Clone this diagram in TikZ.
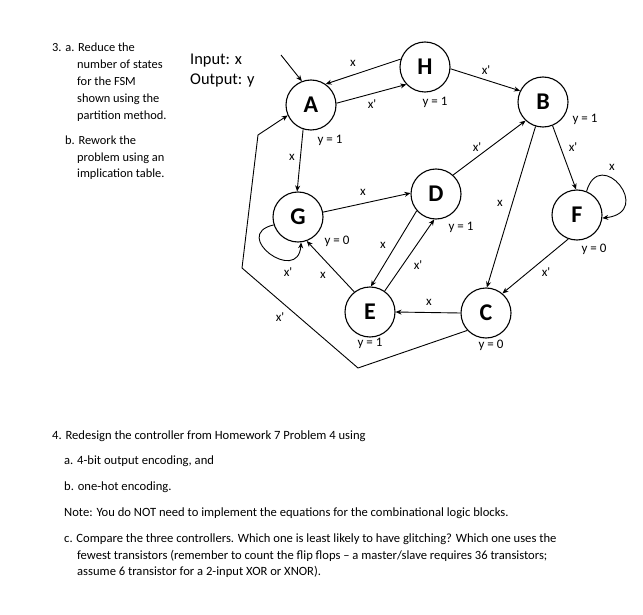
\documentclass[tikz,border=0pt]{standalone}
\usepackage{fontspec}
\setmainfont{Carlito}
\usetikzlibrary{arrows.meta, calc}
\newcommand{\xp}{x\textquotesingle}
\tikzset{
  % FSM state circle
  state/.style={
    circle, draw, line width=1.1pt, minimum size=50pt, inner sep=0pt,
    font=\fontsize{24pt}{26pt}\selectfont\bfseries
  },
  % Transition arrow
  arr/.style={-{Stealth[length=6pt, width=5pt]}, line width=0.9pt},
  % Edge and output labels
  lbl/.style={font=\fontsize{13pt}{15pt}\selectfont, inner sep=0pt},
  % Problem text
  txt/.style={font=\fontsize{12.4pt}{14pt}\selectfont, anchor=base west, inner sep=0pt},
  btxt/.style={font=\fontsize{12.6pt}{14pt}\selectfont, anchor=base west, inner sep=0pt},
}
\begin{document}
\begin{tikzpicture}[x=1pt, y=-1pt]
  \useasboundingbox (0,0) rectangle (643,615);
  % problem 3 text
  \node[txt] (p3) at (52,52) {3. a. Reduce the};
  \foreach \t [count=\i] in {number of states, for the FSM, shown using the, partition method.}
    \node[txt] (p3a\i) at (77,{52+16.8*\i}) {\t};
  \node[txt] (p3b) at (65,145) {b. Rework the};
  \foreach \t [count=\i] in {problem using an, implication table.}
    \node[txt] (p3b\i) at (77,{145+16.5*\i}) {\t};
  \node[txt, font=\fontsize{16.4pt}{18pt}\selectfont] (inp) at (190,65) {Input: x};
  \node[txt, font=\fontsize{16.4pt}{18pt}\selectfont] (outp) at (190,85) {Output: y};

  % states
  \node[state] (A) at (311,105) {A};
  \node[state] (H) at (425,67)  {H};
  \node[state] (B) at (543,102) {B};
  \node[state] (D) at (436,194) {D};
  \node[state] (F) at (577,215) {F};
  \node[state] (G) at (298,217) {G};
  \node[state] (E) at (370,312) {E};
  \node[state] (C) at (486,313) {C};
  % outputs
  \node[lbl] (yA) at (330,140) {y = 1};
  \node[lbl] (yH) at (435,102) {y = 1};
  \node[lbl] (yB) at (585,119) {y = 1};
  \node[lbl] (yD) at (461,227) {y = 1};
  \node[lbl] (yF) at (594,249) {y = 0};
  \node[lbl] (yG) at (337,241) {y = 0};
  \node[lbl] (yE) at (370,343) {y = 1};
  \node[lbl] (yC) at (491,345) {y = 0};

  % transitions
  \coordinate (start) at (281,55);
  \draw[arr] (start) -- (A.111);
  \draw[arr] (H.162) -- (A.55) node[lbl] at (353,63) {x};
  \draw[arr] (A.4) -- (H.223) node[lbl] at (372,104) {\xp};
  \draw[arr] (H.-4) -- (B.154) node[lbl] at (486,70) {\xp};
  \draw[arr] (D.48) -- (B.227) node[lbl] at (477,147) {\xp};
  \draw[arr] (B.253) -- (C.88) node[lbl] at (500,203) {x};
  \draw[arr] (B.292) -- (F.92) node[lbl] at (573,147) {\xp};
  \draw[arr] (F.68) .. controls (600,145) and (655,212) .. (F.-7)
    node[lbl] at (612,167) {x};
  \draw[arr] (F.250) -- (C.50) node[lbl] at (546,272) {\xp};
  \draw[arr] (A.252) -- (G.92) node[lbl] at (292,157) {x};
  \draw[arr] (G.11) -- (D.178) node[lbl] at (363,192) {x};
  \draw[arr] (G.198) .. controls (230,235) and (298,285) .. (G.277)
    node[lbl] at (288,272) {\xp};
  \draw[arr] (E.128) -- (G.290) node[lbl] at (323,275) {x};
  \draw[arr] (D.221) -- (E.88) node[lbl] at (383,245) {x};
  \draw[arr] (E.55) -- (D.266) node[lbl] at (418,265) {\xp};
  \draw[arr] (C.180) -- (E.0) node[lbl] at (429,302) {x};
  \draw[arr] (C.223) -- (358,368) -- (242,268) -- (258,135) -- (A.204)
    node[lbl] at (280,317) {\xp};

  % problem 4 text
  \node[btxt] (p4) at (52,439) {4. Redesign the controller from Homework 7 Problem 4 using};
  \node[btxt] (p4a) at (64,464) {a. 4-bit output encoding, and};
  \node[btxt] (p4b) at (64,490) {b. one-hot encoding.};
  \node[btxt] (p4n) at (64,516) {Note: You do NOT need to implement the equations for the combinational logic blocks.};
  \node[btxt] (p4c) at (64,542.5) {c. Compare the three controllers. Which one is least likely to have glitching? Which one uses the};
  \node[btxt] (p4c1) at (77,559) {fewest transistors (remember to count the flip flops – a master/slave requires 36 transistors;};
  \node[btxt] (p4c2) at (77,575.5) {assume 6 transistor for a 2-input XOR or XNOR).};
\end{tikzpicture}
\end{document}
